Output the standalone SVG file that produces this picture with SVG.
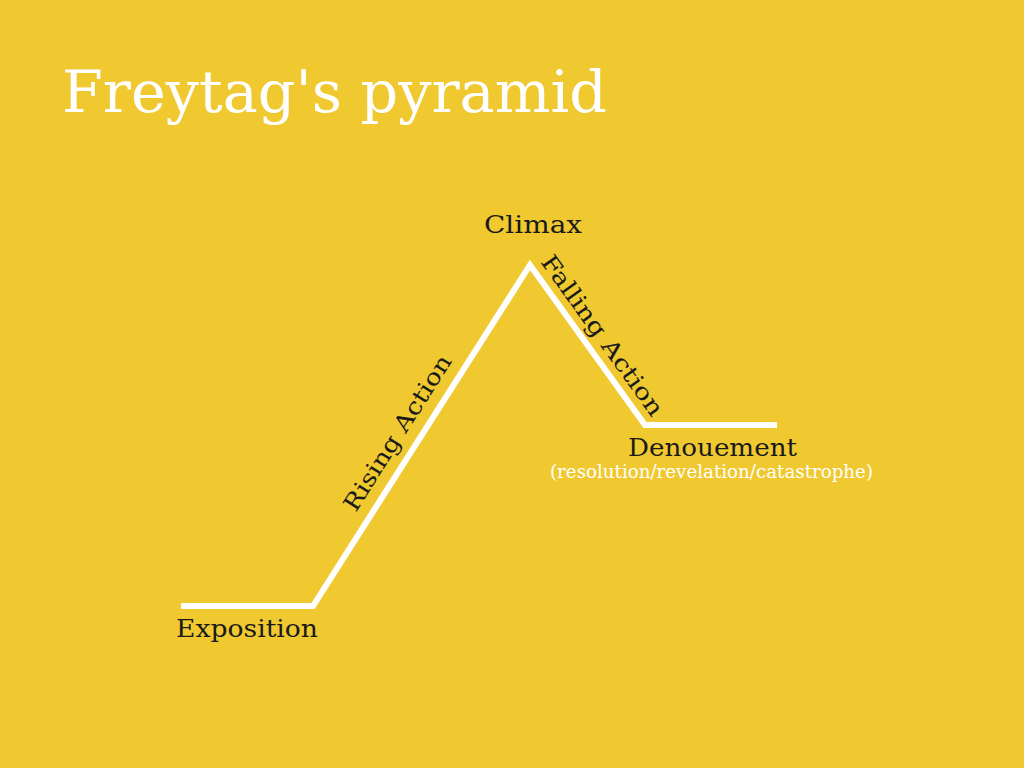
<svg xmlns="http://www.w3.org/2000/svg" width="1024" height="768" viewBox="0 0 1024 768">
<style>
.t{font-family:"DejaVu Serif","Liberation Serif",serif;fill:#1a1a1a}
.w{font-family:"DejaVu Serif","Liberation Serif",serif;fill:#ffffff}
.ln{fill:none;stroke:#ffffff;stroke-width:6;stroke-linejoin:miter}
</style>
<rect width="1024" height="768" fill="#F0C930"/>
<g id="title"><text class="w" x="62" y="112" font-size="58" textLength="545" lengthAdjust="spacingAndGlyphs">Freytag's pyramid</text></g>
<g id="connectors"><path class="ln" d="M181,606 L313,606 L530,265 L645,425 L777,425"/></g>
<g id="exposition"><text class="t" x="176" y="637" font-size="24" textLength="142" lengthAdjust="spacingAndGlyphs">Exposition</text></g>
<g id="rising"><text class="t" font-size="23" text-anchor="middle" textLength="180" lengthAdjust="spacingAndGlyphs" transform="translate(404,437) rotate(-57.5)">Rising Action</text></g>
<g id="climax"><text class="t" x="484" y="233" font-size="24" textLength="98" lengthAdjust="spacingAndGlyphs">Climax</text></g>
<g id="falling"><text class="t" font-size="23" text-anchor="middle" textLength="192" lengthAdjust="spacingAndGlyphs" transform="translate(596,340) rotate(54.3)">Falling Action</text></g>
<g id="denouement"><text class="t" x="628" y="456" font-size="25" textLength="169" lengthAdjust="spacingAndGlyphs">Denouement</text>
<text class="w" x="550" y="478" font-size="18" textLength="323" lengthAdjust="spacingAndGlyphs">(resolution/revelation/catastrophe)</text></g>
</svg>
